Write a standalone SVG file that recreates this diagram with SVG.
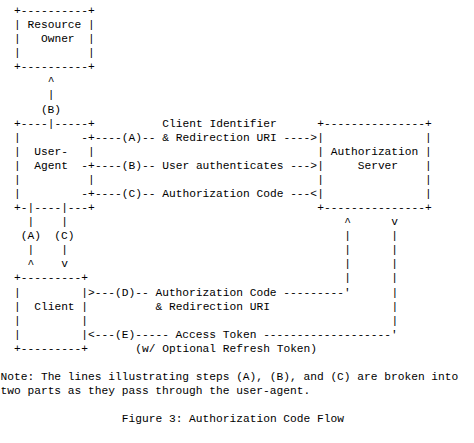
<svg xmlns="http://www.w3.org/2000/svg" width="474" height="443" viewBox="0 0 474 443">
<style>
text{font-family:"Liberation Mono","DejaVu Sans Mono",monospace;font-size:11.23px;fill:#000;white-space:pre}
</style>
<rect width="474" height="443" fill="#fff"/>
<g id="resource-owner" xml:space="preserve">
<text x="14" y="13.9">+----------+</text>
<text x="14" y="28">| Resource |</text>
<text x="14" y="42.1">|   Owner  |</text>
<text x="14" y="56.2">|          |</text>
<text x="14" y="70.2">+----------+</text>
</g>
<g id="user-agent" xml:space="preserve">
<text x="14" y="126.6">+----|-----+</text>
<text x="14" y="140.6">|         -+</text>
<text x="14" y="154.7">|  User-   |</text>
<text x="14" y="168.8">|  Agent  -+</text>
<text x="14" y="182.9">|          |</text>
<text x="14" y="197">|         -+</text>
<text x="14" y="211">+-|----|---+</text>
</g>
<g id="authorization-server" xml:space="preserve">
<text x="317.3" y="126.6">+---------------+</text>
<text x="317.3" y="140.6">|               |</text>
<text x="317.3" y="154.7">| Authorization |</text>
<text x="317.3" y="168.8">|     Server    |</text>
<text x="317.3" y="182.9">|               |</text>
<text x="317.3" y="197">|               |</text>
<text x="317.3" y="211">+---------------+</text>
</g>
<g id="client" xml:space="preserve">
<text x="14" y="281.4">+---------+</text>
<text x="14" y="295.5">|         |</text>
<text x="14" y="309.6">|  Client |</text>
<text x="14" y="323.7">|         |</text>
<text x="14" y="337.8">|         |</text>
<text x="14" y="351.8">+---------+</text>
</g>
<g id="connectors" xml:space="preserve">
<text x="47.7" y="84.3">^</text>
<text x="47.7" y="98.4">|</text>
<text x="40.9" y="112.5">(B)</text>
<text x="162.3" y="126.6">Client Identifier</text>
<text x="94.9" y="140.6">----(A)-- &amp; Redirection URI ----&gt;</text>
<text x="94.9" y="168.8">----(B)-- User authenticates ---&gt;</text>
<text x="94.9" y="197">----(C)-- Authorization Code ---&lt;</text>
<text x="27.5" y="225.1">|    |</text>
<text x="20.7" y="239.2">(A)  (C)</text>
<text x="27.5" y="253.3">|    |</text>
<text x="27.5" y="267.4">^    v</text>
<text x="344.2" y="225.1">^      v</text>
<text x="344.2" y="239.2">|      |</text>
<text x="344.2" y="253.3">|      |</text>
<text x="344.2" y="267.4">|      |</text>
<text x="344.2" y="281.4">|      |</text>
<text x="88.1" y="295.5">&gt;---(D)-- Authorization Code ---------'</text>
<text x="391.4" y="295.5">|</text>
<text x="155.5" y="309.6">&amp; Redirection URI</text>
<text x="391.4" y="309.6">|</text>
<text x="391.4" y="323.7">|</text>
<text x="88.1" y="337.8">&lt;---(E)----- Access Token -------------------'</text>
<text x="135.3" y="351.8">(w/ Optional Refresh Token)</text>
</g>
<g id="notes" xml:space="preserve">
<text x="0.5" y="380">Note: The lines illustrating steps (A), (B), and (C) are broken into</text>
<text x="0.5" y="394.1">two parts as they pass through the user-agent.</text>
<text x="121.8" y="422.2">Figure 3: Authorization Code Flow</text>
</g>
</svg>
